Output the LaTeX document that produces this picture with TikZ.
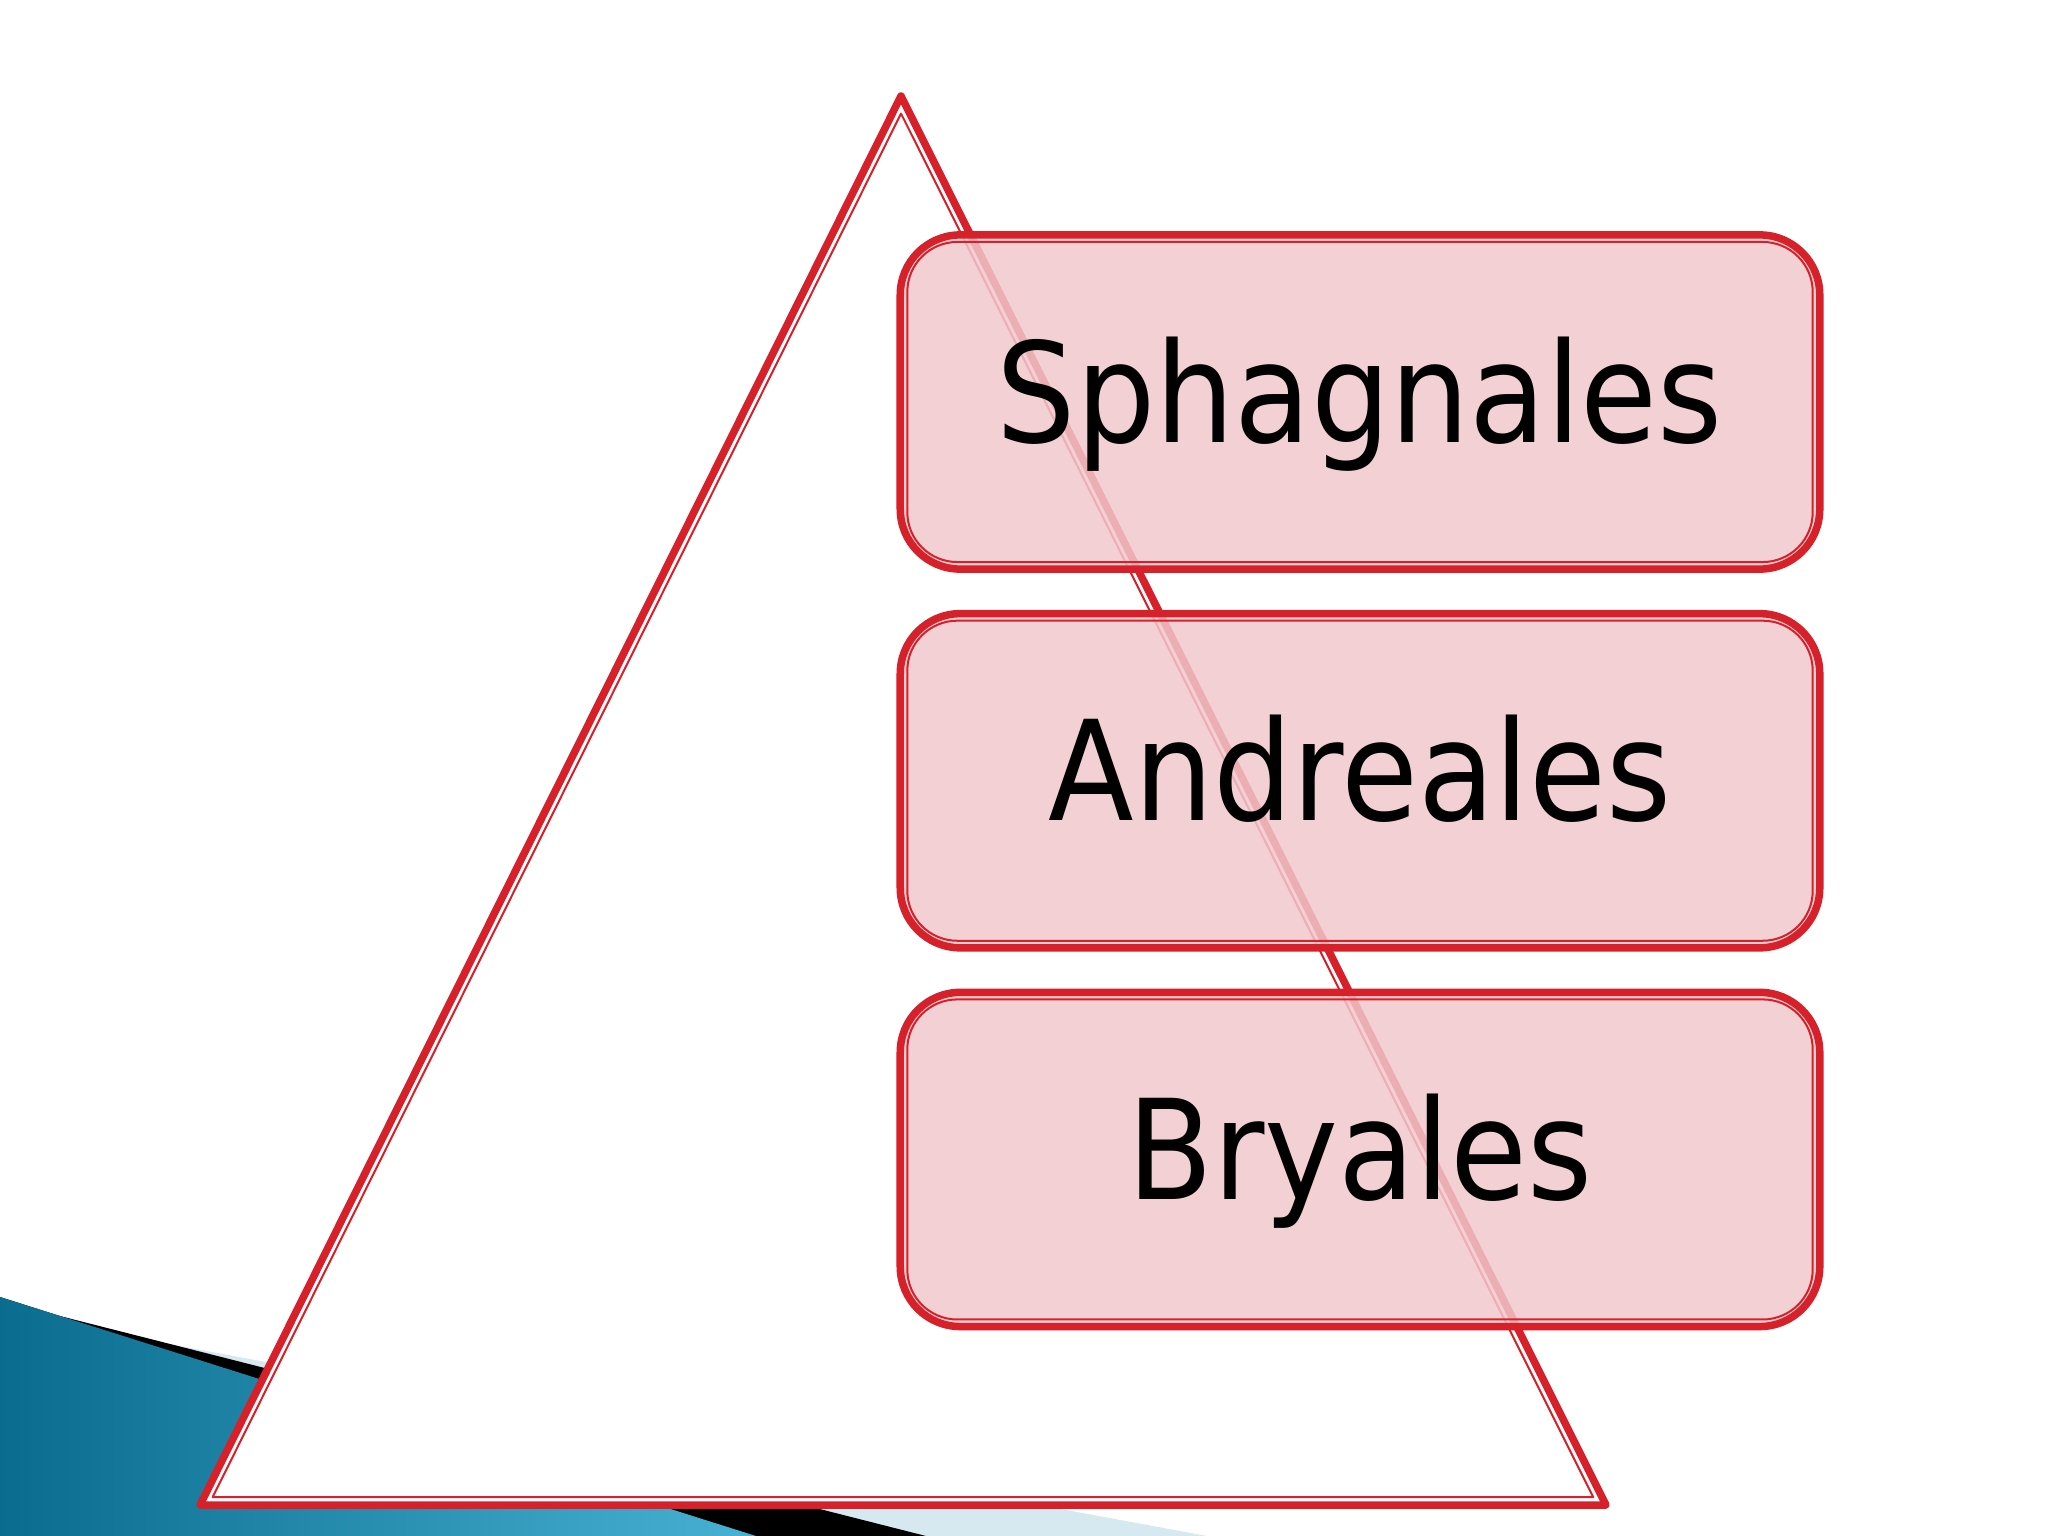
\documentclass[tikz,border=0pt]{standalone}
\usepackage{fontspec}
\setmainfont{DejaVu Sans Condensed}
\usetikzlibrary{shapes,positioning,calc}
\definecolor{ordred}{RGB}{214,32,42}
\definecolor{ordfill}{RGB}{240,200,204}
\definecolor{tealdark}{RGB}{10,108,142}
\definecolor{teallight}{RGB}{72,178,212}
\definecolor{paleblue}{RGB}{214,232,240}
\tikzstyle{pyramid} = [draw=ordred,fill=white,line width=0.075cm,line join=round]
\tikzstyle{fineline} = [draw=ordred,line width=0.02cm,line join=round]
\tikzstyle{order} = [draw=ordred,line width=0.075cm,rectangle,rounded corners=0.6cm,fill=ordfill,fill opacity=0.85,text opacity=1,minimum width=9.19cm,minimum height=3.34cm,inner sep=0,text height=1cm,text depth=0.2cm,font=\fontsize{39.5}{47}\selectfont]
\tikzstyle{innerrim} = [fineline,rounded corners=0.5cm]
\def \ins {0.108cm}

\begin{document}
\begin{tikzpicture}[x=0.01cm,y=-0.01cm]
  \useasboundingbox (0,0) rectangle (2048,1536);
  % swoosh in the corner
  \fill[paleblue] (0,1297) -- (120,1335) -- (1207,1536) -- (0,1536) -- cycle;
  \fill[black] (0,1297) -- (60,1316) -- (926,1536) -- (0,1536) -- cycle;
  \shade[left color=tealdark,right color=teallight] (0,1297) -- (756,1536) -- (0,1536) -- cycle;
  % pyramid
  \coordinate (apex) at (901,96);
  \coordinate (bl) at (200,1505);
  \coordinate (br) at (1606,1505);
  \coordinate (mid) at (902,1071);
  \draw[pyramid] (apex) -- (bl) -- (br) -- cycle;
  \draw[fineline] ($(mid)!0.982!(apex)$) -- ($(mid)!0.982!(bl)$) -- ($(mid)!0.982!(br)$) -- cycle;
  % orders
  \node[order] (sph) at (1360,402) {Sphagnales};
  \node[order,below=0.37cm of sph] (and) {Andreales};
  \node[order,below=0.37cm of and] (bry) {Bryales};
  \draw[innerrim] ([shift={(\ins,-\ins)}]sph.north west) rectangle ([shift={(-\ins,\ins)}]sph.south east);
  \draw[innerrim] ([shift={(\ins,-\ins)}]and.north west) rectangle ([shift={(-\ins,\ins)}]and.south east);
  \draw[innerrim] ([shift={(\ins,-\ins)}]bry.north west) rectangle ([shift={(-\ins,\ins)}]bry.south east);
\end{tikzpicture}
\end{document}
